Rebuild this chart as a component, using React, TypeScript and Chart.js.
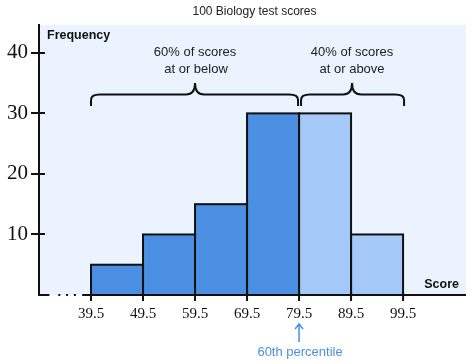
import React, { useEffect, useRef } from "react";
import { Chart, registerables } from "chart.js";

Chart.register(...registerables);

const binEdges = [39.5, 49.5, 59.5, 69.5, 79.5, 89.5, 99.5];
const frequencies = [5, 10, 15, 30, 30, 10];
const yTickValues = [10, 20, 30, 40];
const chartTitle = "100 Biology test scores";
const percentileValue = 79.5;
const belowLabel = ["60% of scores", "at or below"];
const aboveLabel = ["40% of scores", "at or above"];
const percentileLabel = "60th percentile";
const yAxisTitle = "Frequency";
const xAxisTitle = "Score";

const DARK = "#4a8fe2";
const LIGHT = "#a4c8f8";
const BG = "#eaf3fe";
const INK = "#111111";
const SANS = "'Liberation Sans', Arial, sans-serif";
const SERIF = "'Liberation Serif', 'Times New Roman', serif";

function drawBrace(ctx: CanvasRenderingContext2D, x1: number, x2: number, xm: number, yEnd: number, yBar: number, yTip: number) {
  const r = 9;
  ctx.beginPath();
  ctx.moveTo(x1, yEnd);
  ctx.lineTo(x1, yBar + r * 0.6);
  ctx.quadraticCurveTo(x1, yBar, x1 + r, yBar);
  ctx.lineTo(xm - r, yBar);
  ctx.quadraticCurveTo(xm, yBar, xm, yTip);
  ctx.quadraticCurveTo(xm, yBar, xm + r, yBar);
  ctx.lineTo(x2 - r, yBar);
  ctx.quadraticCurveTo(x2, yBar, x2, yBar + r * 0.6);
  ctx.lineTo(x2, yEnd);
  ctx.stroke();
}

const decorPlugin = {
  id: "decor",
  beforeDatasetsDraw(chart: any) {
    const { ctx, chartArea: a } = chart;
    ctx.save();
    ctx.fillStyle = BG;
    ctx.fillRect(a.left, a.top, a.right - a.left, a.bottom - a.top);
    ctx.restore();
  },
  afterDatasetsDraw(chart: any) {
    const { ctx, chartArea: a } = chart;
    const xs = chart.scales.x;
    const ys = chart.scales.y;
    ctx.save();
    // bar outlines
    ctx.strokeStyle = INK;
    ctx.lineWidth = 2;
    const meta = chart.getDatasetMeta(0);
    meta.data.forEach((el: any) => {
      const p = el.getProps(["x", "y", "base", "width"], true);
      ctx.strokeRect(p.x - p.width / 2, p.y, p.width, p.base - p.y);
    });
    // y axis
    ctx.beginPath();
    ctx.moveTo(a.left, a.top - 1);
    ctx.lineTo(a.left, a.bottom + 1);
    ctx.stroke();
    yTickValues.forEach((v) => {
      const py = Math.round(ys.getPixelForValue(v));
      ctx.beginPath();
      ctx.moveTo(a.left - 8, py);
      ctx.lineTo(a.left + 6, py);
      ctx.stroke();
    });
    // x axis with break dots
    const breakStart = xs.getPixelForValue(31.5);
    const breakEnd = xs.getPixelForValue(37.8);
    ctx.beginPath();
    ctx.moveTo(a.left - 1, a.bottom);
    ctx.lineTo(breakStart, a.bottom);
    ctx.moveTo(breakEnd, a.bottom);
    ctx.lineTo(a.right, a.bottom);
    ctx.stroke();
    ctx.fillStyle = INK;
    [33.4, 34.9, 36.4].forEach((v) => {
      const px = xs.getPixelForValue(v);
      ctx.fillRect(px - 1, a.bottom - 1, 2, 2);
    });
    binEdges.forEach((v) => {
      const px = xs.getPixelForValue(v);
      ctx.beginPath();
      ctx.moveTo(px, a.bottom - 4);
      ctx.lineTo(px, a.bottom + 6);
      ctx.stroke();
    });
    // braces
    const xa = xs.getPixelForValue(binEdges[0]);
    const xp = xs.getPixelForValue(percentileValue);
    const xb = xs.getPixelForValue(binEdges[binEdges.length - 1]);
    const yEnd = ys.getPixelForValue(31.2);
    const yBar = ys.getPixelForValue(33.1);
    const yTip = ys.getPixelForValue(35.0);
    drawBrace(ctx, xa, xp - 1, (xa + xp) / 2, yEnd, yBar, yTip);
    drawBrace(ctx, xp + 2, xb + 1, (xp + xb) / 2 + 1, yEnd, yBar, yTip);
    // annotation texts
    ctx.fillStyle = "#222222";
    ctx.font = `13px ${SANS}`;
    ctx.textAlign = "center";
    ctx.textBaseline = "middle";
    const yl1 = ys.getPixelForValue(40.1);
    const yl2 = ys.getPixelForValue(37.2);
    ctx.fillText(belowLabel[0], (xa + xp) / 2, yl1);
    ctx.fillText(belowLabel[1], (xa + xp) / 2 + 1, yl2);
    ctx.fillText(aboveLabel[0], (xp + xb) / 2 + 1, yl1);
    ctx.fillText(aboveLabel[1], (xp + xb) / 2 + 1, yl2);
    // axis titles
    ctx.fillStyle = INK;
    ctx.font = `bold 12.5px ${SANS}`;
    ctx.textAlign = "left";
    ctx.fillText(yAxisTitle, a.left + 8, a.top + 11);
    ctx.textAlign = "right";
    ctx.fillText(xAxisTitle, a.right - 7, a.bottom - 10);
    // chart title
    ctx.fillStyle = "#222222";
    ctx.font = `12px ${SANS}`;
    ctx.textAlign = "center";
    ctx.fillText(chartTitle, (a.left + a.right) / 2 + 2, 12);
    // percentile arrow
    ctx.strokeStyle = DARK;
    ctx.fillStyle = DARK;
    ctx.lineWidth = 1.5;
    ctx.beginPath();
    ctx.moveTo(xp, a.bottom + 47);
    ctx.lineTo(xp, a.bottom + 30);
    ctx.moveTo(xp - 4, a.bottom + 34);
    ctx.lineTo(xp, a.bottom + 29);
    ctx.lineTo(xp + 4, a.bottom + 34);
    ctx.stroke();
    ctx.font = `13px ${SANS}`;
    ctx.fillText(percentileLabel, xp + 1, a.bottom + 57);
    ctx.restore();
  },
};

export default function App() {
  const canvasRef = useRef<HTMLCanvasElement | null>(null);

  useEffect(() => {
    document.body.style.margin = "0";
    const canvas = canvasRef.current;
    if (!canvas) return;
    const barData = frequencies.map((f, i) => ({
      x: (binEdges[i] + binEdges[i + 1]) / 2,
      y: f,
    }));
    const chart = new Chart(canvas, {
      type: "bar",
      data: {
        datasets: [
          {
            data: barData as any,
            backgroundColor: frequencies.map((_, i) => (binEdges[i] >= percentileValue ? LIGHT : DARK)),
            borderWidth: 0,
            barPercentage: 1,
            categoryPercentage: 1,
          },
        ],
      },
      options: {
        responsive: false,
        animation: false,
        events: [],
        layout: { padding: { top: 25, right: 8, left: 0, bottom: 0 } },
        plugins: {
          legend: { display: false },
          title: { display: false },
          tooltip: { enabled: false },
        },
        scales: {
          x: {
            type: "linear",
            offset: false,
            min: 29.5,
            max: 111.6,
            grid: { display: false },
            border: { display: false },
            afterBuildTicks: (s: any) => {
              s.ticks = binEdges.map((v) => ({ value: v }));
            },
            afterFit: (s: any) => {
              s.height = 69;
            },
            ticks: {
              autoSkip: false,
              maxRotation: 0,
              padding: 2,
              color: INK,
              font: { family: SERIF, size: 15 },
              callback: (v: any) => Number(v).toFixed(1),
            },
          },
          y: {
            min: 0,
            max: 44.6,
            grid: { display: false },
            border: { display: false },
            afterBuildTicks: (s: any) => {
              s.ticks = yTickValues.map((v) => ({ value: v }));
            },
            afterFit: (s: any) => {
              s.width = 39;
            },
            ticks: {
              padding: 3,
              color: INK,
              font: { family: SERIF, size: 21 },
              callback: (v: any) => String(v),
            },
          },
        },
      },
      plugins: [decorPlugin],
    });
    return () => chart.destroy();
  }, []);

  return (
    <div style={{ width: 474, height: 364 }}>
      <canvas ref={canvasRef} width={474} height={364} style={{ display: "block" }} />
    </div>
  );
}
